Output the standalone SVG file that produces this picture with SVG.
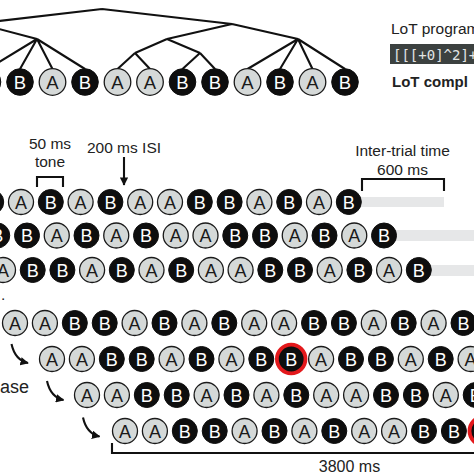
<svg xmlns="http://www.w3.org/2000/svg" width="474" height="474" viewBox="0 0 474 474">
<style>
.ca{fill:#d5d9d8;stroke:#1a1a1a;stroke-width:1.3}
.cb{fill:#0e0e0e;stroke:#0e0e0e;stroke-width:1}
.cr{fill:#0e0e0e;stroke:#e3191c;stroke-width:3.8}
.ta{font-family:"Liberation Sans",Arial,sans-serif;font-size:18px;fill:#1a1a1a;text-anchor:middle}
.tb{font-family:"Liberation Sans",Arial,sans-serif;font-size:18px;fill:#ffffff;text-anchor:middle}
.big{font-size:18.5px}
.lbl{font-family:"Liberation Sans",Arial,sans-serif;font-size:15.5px;fill:#222;text-anchor:middle}
.ln{fill:none;stroke:#111;stroke-width:2.1}
.bar{fill:#e6e7e8}
</style>
<defs>
<marker id="ah" viewBox="0 0 10 10" refX="9" refY="5" markerWidth="4" markerHeight="4" orient="auto" markerUnits="strokeWidth">
<path d="M0,0 L10,5 L0,10 z" fill="#111"/>
</marker>
</defs>
<rect width="474" height="474" fill="#fff"/>

<g id="connectors">
<path class="ln" d="M102,9 L232,24 M102,9 L-22,23.5 L37,39 M37,39 L-12.5,69 M37,39 L20,69 M37,39 L52.5,69 M37,39 L85,69 M232,24 L167,39 M232,24 L298,39 M167,39 L135,53 M167,39 L200,53 M135,53 L117.5,69 M135,53 L150,69 M200,53 L182.5,69 M200,53 L215,69 M298,39 L247.5,69 M298,39 L280,69 M298,39 L312.5,69 M298,39 L345,69"/>
<path class="ln" d="M37,187 V177 H63 V187"/>
<path class="ln" d="M362,191 V179 H444 V191"/>
<path class="ln" d="M124,157 V185" marker-end="url(#ah)"/>
<path class="ln" d="M112,443 V453 H480"/>
<path class="ln" stroke-width="1.8" d="M11.5,344 Q15,360 28,363" marker-end="url(#ah)"/>
<path class="ln" stroke-width="1.8" d="M47,381 Q50.5,397 63.5,400" marker-end="url(#ah)"/>
<path class="ln" stroke-width="1.8" d="M83,417.5 Q86.5,433.5 99.5,436.5" marker-end="url(#ah)"/>
</g>

<g id="labels">
<text class="lbl" x="50" y="149">50 ms</text>
<text class="lbl" x="50" y="167">tone</text>
<text class="lbl" x="124" y="153">200 ms ISI</text>
<text class="lbl" x="402.5" y="156">Inter-trial time</text>
<text class="lbl" x="402.5" y="175">600 ms</text>
<text class="lbl" x="349.5" y="472" style="font-size:16px">3800 ms</text>
<text class="lbl" x="0" y="393" style="font-size:18px;text-anchor:start">ase</text>
<text class="lbl" x="1" y="300" style="text-anchor:start">.</text>
</g>

<g id="lot">
<text class="lbl" x="391" y="34" style="text-anchor:start">LoT program</text>
<rect x="390" y="44" width="90" height="20" fill="#3c4140"/>
<text x="393" y="59.5" style="font-family:'DejaVu Sans Mono',monospace;font-size:14px;fill:#e2e4e4">[[[+0]^2]+</text>
<text class="lbl" x="392" y="87" style="text-anchor:start;font-weight:bold;font-size:15px">LoT compl</text>
</g>

<g id="tree-leaves">
<g id="t0"><circle class="cb" cx="-12.5" cy="82" r="13.3"/><text class="tb big" x="-12.5" y="88.5">B</text></g>
<g id="t1"><circle class="cb" cx="20" cy="82" r="13.3"/><text class="tb big" x="20" y="88.5">B</text></g>
<g id="t2"><circle class="ca" cx="52.5" cy="82" r="13.3"/><text class="ta big" x="52.5" y="88.5">A</text></g>
<g id="t3"><circle class="cb" cx="85" cy="82" r="13.3"/><text class="tb big" x="85" y="88.5">B</text></g>
<g id="t4"><circle class="ca" cx="117.5" cy="82" r="13.3"/><text class="ta big" x="117.5" y="88.5">A</text></g>
<g id="t5"><circle class="ca" cx="150" cy="82" r="13.3"/><text class="ta big" x="150" y="88.5">A</text></g>
<g id="t6"><circle class="cb" cx="182.5" cy="82" r="13.3"/><text class="tb big" x="182.5" y="88.5">B</text></g>
<g id="t7"><circle class="cb" cx="215" cy="82" r="13.3"/><text class="tb big" x="215" y="88.5">B</text></g>
<g id="t8"><circle class="ca" cx="247.5" cy="82" r="13.3"/><text class="ta big" x="247.5" y="88.5">A</text></g>
<g id="t9"><circle class="cb" cx="280" cy="82" r="13.3"/><text class="tb big" x="280" y="88.5">B</text></g>
<g id="t10"><circle class="ca" cx="312.5" cy="82" r="13.3"/><text class="ta big" x="312.5" y="88.5">A</text></g>
<g id="t11"><circle class="cb" cx="345" cy="82" r="13.3"/><text class="tb big" x="345" y="88.5">B</text></g>
</g>

<g id="row1">
<rect class="bar" x="349" y="197" width="95" height="10"/>
<g id="r1-0"><circle class="cb" cx="-8.8" cy="202" r="12.5"/><text class="tb" x="-8.8" y="208.5">B</text></g>
<g id="r1-1"><circle class="ca" cx="21" cy="202" r="12.5"/><text class="ta" x="21" y="208.5">A</text></g>
<g id="r1-2"><circle class="cb" cx="50.8" cy="202" r="12.5"/><text class="tb" x="50.8" y="208.5">B</text></g>
<g id="r1-3"><circle class="ca" cx="80.6" cy="202" r="12.5"/><text class="ta" x="80.6" y="208.5">A</text></g>
<g id="r1-4"><circle class="cb" cx="110.4" cy="202" r="12.5"/><text class="tb" x="110.4" y="208.5">B</text></g>
<g id="r1-5"><circle class="ca" cx="140.2" cy="202" r="12.5"/><text class="ta" x="140.2" y="208.5">A</text></g>
<g id="r1-6"><circle class="ca" cx="170" cy="202" r="12.5"/><text class="ta" x="170" y="208.5">A</text></g>
<g id="r1-7"><circle class="cb" cx="199.8" cy="202" r="12.5"/><text class="tb" x="199.8" y="208.5">B</text></g>
<g id="r1-8"><circle class="cb" cx="229.6" cy="202" r="12.5"/><text class="tb" x="229.6" y="208.5">B</text></g>
<g id="r1-9"><circle class="ca" cx="259.4" cy="202" r="12.5"/><text class="ta" x="259.4" y="208.5">A</text></g>
<g id="r1-10"><circle class="cb" cx="289.2" cy="202" r="12.5"/><text class="tb" x="289.2" y="208.5">B</text></g>
<g id="r1-11"><circle class="ca" cx="319" cy="202" r="12.5"/><text class="ta" x="319" y="208.5">A</text></g>
<g id="r1-12"><circle class="cb" cx="348.8" cy="202" r="12.5"/><text class="tb" x="348.8" y="208.5">B</text></g>
</g>

<g id="row2">
<rect class="bar" x="384" y="230" width="95" height="11"/>
<g id="r2-0"><circle class="cb" cx="-2.75" cy="235.5" r="12.5"/><text class="tb" x="-2.75" y="242">B</text></g>
<g id="r2-1"><circle class="cb" cx="27" cy="235.5" r="12.5"/><text class="tb" x="27" y="242">B</text></g>
<g id="r2-2"><circle class="ca" cx="56.75" cy="235.5" r="12.5"/><text class="ta" x="56.75" y="242">A</text></g>
<g id="r2-3"><circle class="cb" cx="86.5" cy="235.5" r="12.5"/><text class="tb" x="86.5" y="242">B</text></g>
<g id="r2-4"><circle class="ca" cx="116.25" cy="235.5" r="12.5"/><text class="ta" x="116.25" y="242">A</text></g>
<g id="r2-5"><circle class="cb" cx="146" cy="235.5" r="12.5"/><text class="tb" x="146" y="242">B</text></g>
<g id="r2-6"><circle class="ca" cx="175.75" cy="235.5" r="12.5"/><text class="ta" x="175.75" y="242">A</text></g>
<g id="r2-7"><circle class="ca" cx="205.5" cy="235.5" r="12.5"/><text class="ta" x="205.5" y="242">A</text></g>
<g id="r2-8"><circle class="cb" cx="235.25" cy="235.5" r="12.5"/><text class="tb" x="235.25" y="242">B</text></g>
<g id="r2-9"><circle class="cb" cx="265" cy="235.5" r="12.5"/><text class="tb" x="265" y="242">B</text></g>
<g id="r2-10"><circle class="ca" cx="294.75" cy="235.5" r="12.5"/><text class="ta" x="294.75" y="242">A</text></g>
<g id="r2-11"><circle class="cb" cx="324.5" cy="235.5" r="12.5"/><text class="tb" x="324.5" y="242">B</text></g>
<g id="r2-12"><circle class="ca" cx="354.25" cy="235.5" r="12.5"/><text class="ta" x="354.25" y="242">A</text></g>
<g id="r2-13"><circle class="cb" cx="384" cy="235.5" r="12.5"/><text class="tb" x="384" y="242">B</text></g>
</g>

<g id="row3">
<rect class="bar" x="419" y="265" width="60" height="11"/>
<g id="r3-0"><circle class="ca" cx="3" cy="270" r="12.5"/><text class="ta" x="3" y="276.5">A</text></g>
<g id="r3-1"><circle class="cb" cx="32.7" cy="270" r="12.5"/><text class="tb" x="32.7" y="276.5">B</text></g>
<g id="r3-2"><circle class="cb" cx="62.4" cy="270" r="12.5"/><text class="tb" x="62.4" y="276.5">B</text></g>
<g id="r3-3"><circle class="ca" cx="92.1" cy="270" r="12.5"/><text class="ta" x="92.1" y="276.5">A</text></g>
<g id="r3-4"><circle class="cb" cx="121.8" cy="270" r="12.5"/><text class="tb" x="121.8" y="276.5">B</text></g>
<g id="r3-5"><circle class="ca" cx="151.5" cy="270" r="12.5"/><text class="ta" x="151.5" y="276.5">A</text></g>
<g id="r3-6"><circle class="cb" cx="181.2" cy="270" r="12.5"/><text class="tb" x="181.2" y="276.5">B</text></g>
<g id="r3-7"><circle class="ca" cx="210.9" cy="270" r="12.5"/><text class="ta" x="210.9" y="276.5">A</text></g>
<g id="r3-8"><circle class="ca" cx="240.6" cy="270" r="12.5"/><text class="ta" x="240.6" y="276.5">A</text></g>
<g id="r3-9"><circle class="cb" cx="270.3" cy="270" r="12.5"/><text class="tb" x="270.3" y="276.5">B</text></g>
<g id="r3-10"><circle class="cb" cx="300" cy="270" r="12.5"/><text class="tb" x="300" y="276.5">B</text></g>
<g id="r3-11"><circle class="ca" cx="329.7" cy="270" r="12.5"/><text class="ta" x="329.7" y="276.5">A</text></g>
<g id="r3-12"><circle class="cb" cx="359.4" cy="270" r="12.5"/><text class="tb" x="359.4" y="276.5">B</text></g>
<g id="r3-13"><circle class="ca" cx="389.1" cy="270" r="12.5"/><text class="ta" x="389.1" y="276.5">A</text></g>
<g id="r3-14"><circle class="cb" cx="418.8" cy="270" r="12.5"/><text class="tb" x="418.8" y="276.5">B</text></g>
</g>

<g id="row4">
<g id="r4-0"><circle class="ca" cx="15" cy="323" r="12.5"/><text class="ta" x="15" y="329.5">A</text></g>
<g id="r4-1"><circle class="ca" cx="44.9" cy="323" r="12.5"/><text class="ta" x="44.9" y="329.5">A</text></g>
<g id="r4-2"><circle class="cb" cx="74.8" cy="323" r="12.5"/><text class="tb" x="74.8" y="329.5">B</text></g>
<g id="r4-3"><circle class="cb" cx="104.7" cy="323" r="12.5"/><text class="tb" x="104.7" y="329.5">B</text></g>
<g id="r4-4"><circle class="ca" cx="134.6" cy="323" r="12.5"/><text class="ta" x="134.6" y="329.5">A</text></g>
<g id="r4-5"><circle class="cb" cx="164.5" cy="323" r="12.5"/><text class="tb" x="164.5" y="329.5">B</text></g>
<g id="r4-6"><circle class="ca" cx="194.4" cy="323" r="12.5"/><text class="ta" x="194.4" y="329.5">A</text></g>
<g id="r4-7"><circle class="cb" cx="224.3" cy="323" r="12.5"/><text class="tb" x="224.3" y="329.5">B</text></g>
<g id="r4-8"><circle class="ca" cx="254.2" cy="323" r="12.5"/><text class="ta" x="254.2" y="329.5">A</text></g>
<g id="r4-9"><circle class="ca" cx="284.1" cy="323" r="12.5"/><text class="ta" x="284.1" y="329.5">A</text></g>
<g id="r4-10"><circle class="cb" cx="314" cy="323" r="12.5"/><text class="tb" x="314" y="329.5">B</text></g>
<g id="r4-11"><circle class="cb" cx="343.9" cy="323" r="12.5"/><text class="tb" x="343.9" y="329.5">B</text></g>
<g id="r4-12"><circle class="ca" cx="373.8" cy="323" r="12.5"/><text class="ta" x="373.8" y="329.5">A</text></g>
<g id="r4-13"><circle class="cb" cx="403.7" cy="323" r="12.5"/><text class="tb" x="403.7" y="329.5">B</text></g>
<g id="r4-14"><circle class="ca" cx="433.6" cy="323" r="12.5"/><text class="ta" x="433.6" y="329.5">A</text></g>
<g id="r4-15"><circle class="cb" cx="463.5" cy="323" r="12.5"/><text class="tb" x="463.5" y="329.5">B</text></g>
</g>

<g id="row5">
<g id="r5-0"><circle class="ca" cx="52" cy="359" r="12.5"/><text class="ta" x="52" y="365.5">A</text></g>
<g id="r5-1"><circle class="ca" cx="81.9" cy="359" r="12.5"/><text class="ta" x="81.9" y="365.5">A</text></g>
<g id="r5-2"><circle class="cb" cx="111.8" cy="359" r="12.5"/><text class="tb" x="111.8" y="365.5">B</text></g>
<g id="r5-3"><circle class="cb" cx="141.7" cy="359" r="12.5"/><text class="tb" x="141.7" y="365.5">B</text></g>
<g id="r5-4"><circle class="ca" cx="171.6" cy="359" r="12.5"/><text class="ta" x="171.6" y="365.5">A</text></g>
<g id="r5-5"><circle class="cb" cx="201.5" cy="359" r="12.5"/><text class="tb" x="201.5" y="365.5">B</text></g>
<g id="r5-6"><circle class="ca" cx="231.4" cy="359" r="12.5"/><text class="ta" x="231.4" y="365.5">A</text></g>
<g id="r5-7"><circle class="cb" cx="261.3" cy="359" r="12.5"/><text class="tb" x="261.3" y="365.5">B</text></g>
<g id="r5-8"><circle class="cr" cx="291.2" cy="359" r="14.3"/><text class="tb" x="291.2" y="365.5">B</text></g>
<g id="r5-9"><circle class="ca" cx="321.1" cy="359" r="12.5"/><text class="ta" x="321.1" y="365.5">A</text></g>
<g id="r5-10"><circle class="cb" cx="351" cy="359" r="12.5"/><text class="tb" x="351" y="365.5">B</text></g>
<g id="r5-11"><circle class="cb" cx="380.9" cy="359" r="12.5"/><text class="tb" x="380.9" y="365.5">B</text></g>
<g id="r5-12"><circle class="ca" cx="410.8" cy="359" r="12.5"/><text class="ta" x="410.8" y="365.5">A</text></g>
<g id="r5-13"><circle class="cb" cx="440.7" cy="359" r="12.5"/><text class="tb" x="440.7" y="365.5">B</text></g>
<g id="r5-14"><circle class="ca" cx="470.6" cy="359" r="12.5"/><text class="ta" x="470.6" y="365.5">A</text></g>
</g>

<g id="row6">
<g id="r6-0"><circle class="ca" cx="87" cy="395" r="12.5"/><text class="ta" x="87" y="401.5">A</text></g>
<g id="r6-1"><circle class="ca" cx="116.9" cy="395" r="12.5"/><text class="ta" x="116.9" y="401.5">A</text></g>
<g id="r6-2"><circle class="cb" cx="146.8" cy="395" r="12.5"/><text class="tb" x="146.8" y="401.5">B</text></g>
<g id="r6-3"><circle class="cb" cx="176.7" cy="395" r="12.5"/><text class="tb" x="176.7" y="401.5">B</text></g>
<g id="r6-4"><circle class="ca" cx="206.6" cy="395" r="12.5"/><text class="ta" x="206.6" y="401.5">A</text></g>
<g id="r6-5"><circle class="cb" cx="236.5" cy="395" r="12.5"/><text class="tb" x="236.5" y="401.5">B</text></g>
<g id="r6-6"><circle class="ca" cx="266.4" cy="395" r="12.5"/><text class="ta" x="266.4" y="401.5">A</text></g>
<g id="r6-7"><circle class="cb" cx="296.3" cy="395" r="12.5"/><text class="tb" x="296.3" y="401.5">B</text></g>
<g id="r6-8"><circle class="ca" cx="326.2" cy="395" r="12.5"/><text class="ta" x="326.2" y="401.5">A</text></g>
<g id="r6-9"><circle class="ca" cx="356.1" cy="395" r="12.5"/><text class="ta" x="356.1" y="401.5">A</text></g>
<g id="r6-10"><circle class="cb" cx="386" cy="395" r="12.5"/><text class="tb" x="386" y="401.5">B</text></g>
<g id="r6-11"><circle class="cb" cx="415.9" cy="395" r="12.5"/><text class="tb" x="415.9" y="401.5">B</text></g>
<g id="r6-12"><circle class="ca" cx="445.8" cy="395" r="12.5"/><text class="ta" x="445.8" y="401.5">A</text></g>
<g id="r6-13"><circle class="cb" cx="475.7" cy="395" r="12.5"/><text class="tb" x="475.7" y="401.5">B</text></g>
</g>

<g id="row7">
<g id="r7-0"><circle class="ca" cx="125" cy="431" r="12.5"/><text class="ta" x="125" y="437.5">A</text></g>
<g id="r7-1"><circle class="ca" cx="154.9" cy="431" r="12.5"/><text class="ta" x="154.9" y="437.5">A</text></g>
<g id="r7-2"><circle class="cb" cx="184.8" cy="431" r="12.5"/><text class="tb" x="184.8" y="437.5">B</text></g>
<g id="r7-3"><circle class="cb" cx="214.7" cy="431" r="12.5"/><text class="tb" x="214.7" y="437.5">B</text></g>
<g id="r7-4"><circle class="ca" cx="244.6" cy="431" r="12.5"/><text class="ta" x="244.6" y="437.5">A</text></g>
<g id="r7-5"><circle class="cb" cx="274.5" cy="431" r="12.5"/><text class="tb" x="274.5" y="437.5">B</text></g>
<g id="r7-6"><circle class="ca" cx="304.4" cy="431" r="12.5"/><text class="ta" x="304.4" y="437.5">A</text></g>
<g id="r7-7"><circle class="cb" cx="334.3" cy="431" r="12.5"/><text class="tb" x="334.3" y="437.5">B</text></g>
<g id="r7-8"><circle class="ca" cx="364.2" cy="431" r="12.5"/><text class="ta" x="364.2" y="437.5">A</text></g>
<g id="r7-9"><circle class="ca" cx="394.1" cy="431" r="12.5"/><text class="ta" x="394.1" y="437.5">A</text></g>
<g id="r7-10"><circle class="cb" cx="424" cy="431" r="12.5"/><text class="tb" x="424" y="437.5">B</text></g>
<g id="r7-11"><circle class="cb" cx="453.9" cy="431" r="12.5"/><text class="tb" x="453.9" y="437.5">B</text></g>
<g id="r7-12"><circle class="cr" cx="483.8" cy="431" r="14.3"/></g>
</g>
</svg>
